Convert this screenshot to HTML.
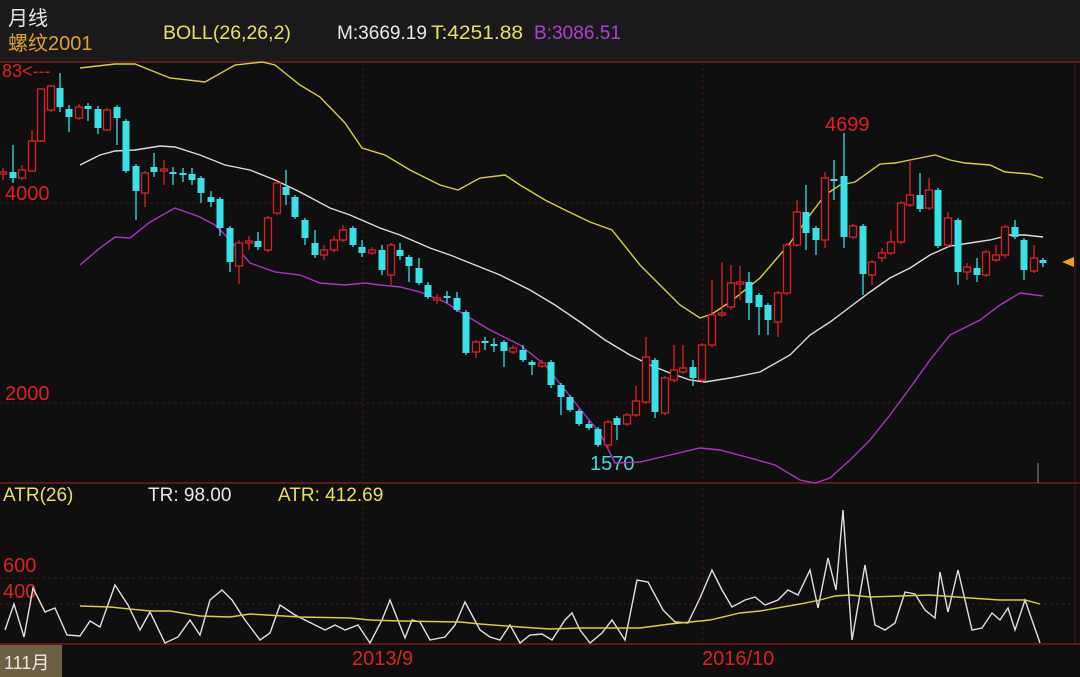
<!DOCTYPE html>
<html><head><meta charset="utf-8"><style>
html,body{margin:0;padding:0;background:#0e0e0e;}
svg{display:block}
text{font-family:"Liberation Sans","Noto Sans CJK SC",sans-serif}
</style></head><body>
<svg id="s" width="1080" height="677" viewBox="0 0 1080 677" xmlns="http://www.w3.org/2000/svg">
<rect width="1080" height="677" fill="#0f0f0f"/>
<rect width="1080" height="62" fill="#1a1a1a"/>
<line x1="0" y1="62" x2="1080" y2="62" stroke="#7a1a1a" stroke-width="1.5"/>
<line x1="0" y1="483" x2="1080" y2="483" stroke="#7a1a1a" stroke-width="1.5"/>
<line x1="0" y1="644" x2="1080" y2="644" stroke="#7a1a1a" stroke-width="1.5"/>
<line x1="1075" y1="62" x2="1075" y2="644" stroke="#5a1515" stroke-width="1"/>
<g stroke="#4a1515" stroke-dasharray="3,3" stroke-width="1">
<line x1="0" y1="203" x2="1075" y2="203"/>
<line x1="0" y1="403" x2="1075" y2="403"/>
<line x1="0" y1="578" x2="1075" y2="578"/>
<line x1="0" y1="604" x2="1075" y2="604"/>
<line x1="363" y1="62" x2="363" y2="644"/>
<line x1="703" y1="62" x2="703" y2="644"/>
</g>
<text x="8" y="25" fill="#e8e8e8" font-size="20">月线</text>
<text x="8" y="50" fill="#e0a030" font-size="20">螺纹2001</text>
<text x="163" y="39" fill="#e8e05a" font-size="19.5">BOLL(26,26,2)</text>
<text x="337" y="39" fill="#e8e8e8" font-size="19" textLength="90" lengthAdjust="spacingAndGlyphs">M:3669.19</text>
<text x="431" y="39" fill="#e8e05a" font-size="19" textLength="92" lengthAdjust="spacingAndGlyphs">T:4251.88</text>
<text x="534" y="39" fill="#b040d0" font-size="19" textLength="87" lengthAdjust="spacingAndGlyphs">B:3086.51</text>
<text x="2" y="77" fill="#e02020" font-size="18">83&lt;---</text>
<text x="5" y="200" fill="#e02020" font-size="20">4000</text>
<text x="5" y="400" fill="#e02020" font-size="20">2000</text>
<text x="825" y="131" fill="#e02020" font-size="20">4699</text>
<text x="590" y="470" fill="#40d8e0" font-size="20">1570</text>
<polygon points="1062,262 1074,257 1074,267" fill="#f0a020"/>
<line x1="1038" y1="463" x2="1038" y2="483" stroke="#888" stroke-width="1"/>
<text x="3" y="501" fill="#e8e05a" font-size="19">ATR(26)</text>
<text x="148" y="501" fill="#e8e8e8" font-size="19">TR: 98.00</text>
<text x="278" y="501" fill="#e8e05a" font-size="19">ATR: 412.69</text>
<text x="3" y="572" fill="#e02020" font-size="20">600</text>
<text x="3" y="598" fill="#e02020" font-size="20">400</text>
<text x="352" y="665" fill="#e02020" font-size="20">2013/9</text>
<text x="702" y="665" fill="#e02020" font-size="20">2016/10</text>
<text x="48" y="665" fill="#e02020" font-size="20">3</text>
<rect x="0" y="645" width="62" height="32" fill="#6b6040"/>
<text x="4" y="669" fill="#e8e8e8" font-size="18">111月</text>
<g id="lines" fill="none" stroke-width="1.4"></g>
<g id="candles"></g>
</svg>
<script>
var NS="http://www.w3.org/2000/svg";
function pl(pts,col){var p=document.createElementNS(NS,"polyline");p.setAttribute("points",pts.map(function(a){return a.join(",")}).join(" "));p.setAttribute("stroke",col);p.setAttribute("fill","none");p.setAttribute("stroke-width","1.4");document.getElementById("lines").appendChild(p);}
pl([[80,68],[115,64],[135,64],[170,78],[205,82],[235,65],[262,62],[275,65],[300,85],[320,97],[345,123],[362,148],[385,155],[410,170],[440,185],[458,190],[480,178],[505,175],[520,185],[545,200],[565,210],[590,222],[612,230],[640,265],[665,290],[680,305],[700,318],[712,314],[730,302],[760,278],[790,243],[810,215],[825,195],[840,185],[855,182],[880,164],[895,163],[920,158],[935,155],[950,160],[965,163],[990,165],[1005,172],[1030,174],[1043,178]],"#d8d040");
pl([[80,165],[100,155],[115,151],[135,150],[160,146],[175,147],[200,155],[225,165],[250,170],[275,180],[300,192],[330,208],[350,215],[380,228],[400,235],[430,248],[450,255],[475,265],[500,275],[530,290],[555,305],[580,322],[605,340],[630,355],[650,365],[670,373],[690,380],[705,382],[730,378],[760,372],[790,355],[810,335],[830,322],[850,307],[870,292],[890,278],[910,268],[930,255],[950,246],[970,243],[990,240],[1010,235],[1025,235],[1043,237]],"#dddddd");
pl([[80,265],[100,248],[115,237],[130,238],[150,222],[175,208],[200,217],[215,225],[230,240],[250,263],[275,272],[300,275],[320,283],[345,285],[365,283],[380,285],[400,287],[420,292],[445,302],[465,315],[490,330],[520,345],[545,365],[565,390],[585,415],[600,433],[615,463],[640,462],[670,455],[700,448],[720,450],[750,458],[775,465],[800,480],[815,483],[830,478],[850,460],[870,440],[890,415],[910,388],[930,360],[950,335],[980,320],[1000,305],[1020,293],[1043,296]],"#b030c8");
pl([[5,630],[14,604],[24,637],[33,588],[45,612],[55,608],[67,635],[80,636],[90,621],[100,627],[115,585],[128,605],[140,630],[150,612],[165,643],[178,637],[190,620],[200,635],[210,600],[222,590],[232,600],[245,620],[260,640],[270,633],[280,605],[295,615],[305,620],[315,625],[325,630],[335,625],[345,630],[358,625],[370,643],[382,620],[390,600],[405,638],[412,620],[420,622],[430,640],[445,637],[455,625],[465,602],[480,630],[490,637],[500,640],[510,625],[520,643],[530,635],[542,634],[552,640],[565,620],[572,613],[580,630],[590,643],[602,633],[612,620],[625,640],[637,580],[648,582],[663,610],[675,622],[688,623],[700,598],[712,570],[722,590],[732,607],[745,600],[755,597],[765,605],[778,600],[788,590],[798,595],[810,570],[818,608],[828,558],[836,590],[843,510],[852,640],[865,565],[875,625],[885,630],[895,623],[905,592],[915,594],[925,610],[935,618],[940,572],[948,612],[958,570],[972,630],[982,628],[992,613],[1000,620],[1008,608],[1015,630],[1025,600],[1040,643]],"#e0e0e0");
pl([[80,606],[110,607],[150,611],[170,611],[200,616],[230,617],[250,614],[300,617],[350,618],[370,620],[400,621],[460,622],[480,624],[520,627],[550,629],[580,628],[640,628],[670,624],[690,622],[710,620],[740,613],[760,611],[800,604],[820,600],[835,596],[850,595],[870,597],[900,596],[930,595],[970,598],[1000,600],[1025,600],[1040,604]],"#d8d040");
var C=[[3,'r',172,174,168,180],[13,'c',172,178,145,183],[22,'r',170,178,165,180],[32,'r',141,171,130,172],[41,'r',89,141,88,142],[51,'r',86,110,85,112],[60,'c',88,107,73,112],[69,'c',109,117,105,132],[79,'r',107,118,104,120],[88,'c',106,109,103,121],[98,'c',109,128,106,134],[107,'r',110,130,108,131],[117,'c',107,118,105,145],[126,'c',121,171,119,173],[136,'c',166,191,164,220],[145,'r',173,193,171,207],[154,'c',167,172,153,177],[164,'r',169,171,160,185],[173,'c',172,174,167,185],[183,'c',173,175,168,182],[192,'c',174,180,168,185],[201,'c',178,193,176,203],[211,'c',197,202,191,207],[220,'c',199,228,197,236],[230,'c',228,262,226,272],[239,'r',243,266,240,284],[249,'r',241,243,236,250],[258,'c',241,247,232,250],[268,'r',218,250,216,252],[277,'r',183,213,181,215],[286,'c',187,195,170,205],[295,'c',197,217,195,219],[305,'c',220,238,218,245],[315,'c',243,255,230,258],[324,'r',250,255,245,260],[334,'r',240,250,236,252],[343,'r',230,240,225,242],[353,'c',228,245,226,247],[362,'c',247,253,240,257],[372,'r',250,253,247,255],[382,'c',250,270,245,275],[391,'r',245,275,243,285],[400,'c',250,256,243,260],[409,'c',257,266,255,282],[419,'c',268,283,258,285],[428,'c',285,297,282,299],[437,'r',298,300,294,304],[447,'c',296,298,291,303],[457,'c',298,310,292,312],[466,'c',312,353,310,355],[476,'r',342,352,340,358],[485,'c',341,343,337,350],[494,'c',344,346,338,352],[504,'c',342,351,340,367],[513,'r',348,352,345,354],[523,'c',350,360,345,362],[532,'c',362,365,360,375],[542,'r',363,366,360,368],[551,'c',362,385,360,388],[561,'c',385,397,383,415],[570,'c',397,410,395,412],[579,'c',411,424,409,426],[589,'c',424,428,421,430],[598,'c',429,445,427,447],[608,'r',422,445,420,450],[617,'c',418,425,416,440],[627,'r',415,424,413,426],[636,'r',401,415,386,417],[646,'r',357,402,337,404],[655,'c',360,412,358,418],[665,'r',378,413,376,415],[674,'r',370,380,345,382],[683,'r',368,372,345,374],[693,'c',367,378,360,386],[702,'r',345,380,343,382],[712,'r',315,345,280,347],[722,'r',313,315,262,317],[731,'r',283,307,265,310],[740,'r',282,284,266,300],[749,'c',282,303,272,320],[759,'c',295,307,293,335],[768,'c',305,320,303,335],[778,'r',293,322,291,337],[787,'r',245,293,243,295],[797,'r',212,245,200,247],[806,'c',212,233,185,250],[816,'c',228,240,226,255],[825,'r',178,240,172,248],[834,'c',179,181,160,200],[844,'c',176,237,133,248],[853,'r',226,237,224,239],[863,'c',226,274,224,295],[872,'r',262,275,260,285],[882,'r',253,258,248,262],[891,'r',242,253,230,255],[901,'r',203,242,201,244],[910,'r',195,205,160,207],[920,'c',195,209,173,212],[929,'r',190,208,178,210],[938,'c',190,246,188,248],[948,'r',218,245,212,247],[958,'c',220,272,218,285],[967,'r',267,272,263,280],[977,'c',268,275,258,282],[986,'r',252,275,250,277],[996,'r',255,260,245,262],[1005,'r',227,255,225,258],[1015,'c',227,237,220,239],[1024,'c',240,270,238,280],[1034,'r',258,271,245,273],[1043,'c',260,263,258,267]];
var g=document.getElementById("candles");
C.forEach(function(c){
 var col=c[1]=='c'?'#38e0e8':'#e02020';
 var w=7,x=c[0];
 var l=document.createElementNS(NS,"line");
 l.setAttribute("x1",x);l.setAttribute("x2",x);l.setAttribute("y1",c[4]);l.setAttribute("y2",c[5]);l.setAttribute("stroke",col);l.setAttribute("stroke-width","1.3");g.appendChild(l);
 var h=Math.max(c[3]-c[2],1.5);
 var r=document.createElementNS(NS,"rect");
 r.setAttribute("x",x-w/2);r.setAttribute("y",c[2]);r.setAttribute("width",w);r.setAttribute("height",h);
 if(c[1]=='c'){r.setAttribute("fill",col);}else{r.setAttribute("fill","#0f0f0f");r.setAttribute("stroke",col);r.setAttribute("stroke-width","1.3");}
 g.appendChild(r);
});
</script>
</body></html>
